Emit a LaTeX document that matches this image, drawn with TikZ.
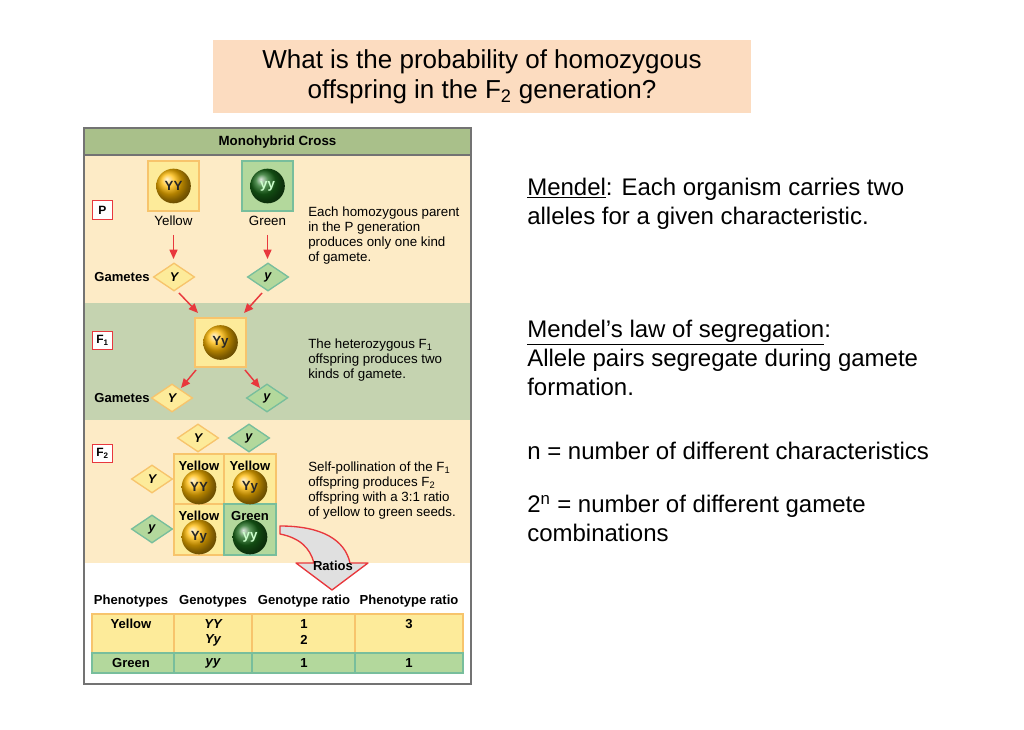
\documentclass[tikz,border=0pt]{standalone}
\usepackage{fontspec}
\setmainfont{Liberation Sans}
\usetikzlibrary{shapes.geometric,arrows.meta}
\definecolor{peach}{HTML}{FCDCC0}
\definecolor{lpeach}{HTML}{FDEBC6}
\definecolor{fgreen}{HTML}{C5D3B0}
\definecolor{hgreen}{HTML}{A9C08A}
\definecolor{yfill}{HTML}{FDEB9A}
\definecolor{yline}{HTML}{F7C46C}
\definecolor{gfill}{HTML}{B3D89C}
\definecolor{gline}{HTML}{78BE9C}
\definecolor{rline}{HTML}{E8383D}
\tikzset{
 ybox/.style={draw=yline,fill=yfill,line width=1pt},
 gbox/.style={draw=gline,fill=gfill,line width=1pt},
 yball/.style={circle,minimum size=26,inner sep=0,ball color=yellow!45!orange,font=\fontsize{10}{11}\bfseries\selectfont,text=black!85},
 gball/.style={circle,minimum size=26,inner sep=0,ball color=green!35!black!90,font=\fontsize{10}{11}\bfseries\selectfont,text=white!80!green},
 ydia/.style={diamond,aspect=1.5,draw=yline,fill=yfill,line width=1pt,minimum width=31,minimum height=21,inner sep=0,font=\fontsize{9.5}{10}\bfseries\itshape\selectfont},
 gdia/.style={ydia,draw=gline,fill=gfill},
 lab/.style={draw=rline,fill=white,line width=0.8pt,minimum width=15,minimum height=14,inner sep=1pt,font=\fontsize{9}{10}\bfseries\selectfont},
 small/.style={font=\fontsize{10}{11.2}\selectfont,align=left,anchor=north west,inner sep=0},
 bsmall/.style={font=\fontsize{9.8}{11.5}\bfseries\selectfont,inner sep=0},
 bital/.style={bsmall,font=\fontsize{9.8}{11.5}\bfseries\itshape\selectfont},
 rarr/.style={-{Triangle[length=7pt,width=6pt]},draw=rline,line width=1.1pt},
 big/.style={font=\fontsize{18}{21.8}\selectfont,align=left,anchor=west,inner sep=0},
}
\begin{document}
\begin{tikzpicture}[x=0.75pt,y=-0.75pt]
\useasboundingbox (0,0) rectangle (1024,730);
\fill[white] (0,0) rectangle (1024,730);
% title
\node[fill=peach,minimum width=538*0.75pt,minimum height=73*0.75pt,inner sep=0,align=center,font=\fontsize{19.5}{22.5}\selectfont] (title) at (482,76.5) {What is the probability of homozygous\\offspring in the F\textsubscript{2} generation?};
% figure backgrounds
\fill[hgreen] (84,128) rectangle (471,155);
\fill[lpeach] (84,155) rectangle (471,303);
\fill[fgreen] (84,303) rectangle (471,420);
\fill[lpeach] (84,420) rectangle (471,563);
\draw[black!55,line width=1.5pt] (84,128) rectangle (471,684);
\draw[black!55,line width=1.2pt] (84,155) -- (471,155);
\node[font=\fontsize{10}{11}\bfseries\selectfont] (hdr) at (277.5,142) {Monohybrid Cross};
% P
\node[lab] (P) at (102.5,210) {P};
\draw[ybox] (148,161) rectangle (199,211);
\node[yball] (YY) at (173.5,186) {YY};
\draw[gbox] (242,161) rectangle (293,211);
\node[gball] (yyP) at (267.5,186) {yy};
\node[font=\fontsize{10}{11}\selectfont] (tYel) at (173.5,221) {Yellow};
\node[font=\fontsize{10}{11}\selectfont] (tGrn) at (267.5,221) {Green};
\coordinate (a1s) at (173.5,235); \coordinate (a1e) at (173.5,259);
\coordinate (a2s) at (267.5,235); \coordinate (a2e) at (267.5,259);
\draw[rarr] (a1s) -- (a1e);
\draw[rarr] (a2s) -- (a2e);
\node[bsmall] (gam1) at (122,277) {Gametes};
\node[ydia] (gY1) at (174,277) {Y};
\node[gdia] (gy1) at (268,277) {y};
\node[small] (tP) at (308,207) {Each homozygous parent\\in the P generation\\produces only one kind\\of gamete.};
% F1
\node[lab] (F1) at (102.5,340.5) {F\textsubscript{1}};
\draw[ybox] (195,318) rectangle (246,367);
\node[yball] (Yy) at (220.5,342.5) {Yy};
\coordinate (f1a) at (198,313); \coordinate (f1b) at (244,313);
\draw[rarr] (179,293) -- (f1a);
\draw[rarr] (262,293) -- (f1b);
\node[bsmall] (gam2) at (122,398) {Gametes};
\node[ydia] (gY2) at (172,398) {Y};
\node[gdia] (gy2) at (267,398) {y};
\coordinate (f1c) at (196,370); \coordinate (f1d) at (245,370);
\coordinate (f1e) at (181,388); \coordinate (f1f) at (260,388);
\draw[rarr] (f1c) -- (f1e);
\draw[rarr] (f1d) -- (f1f);
\node[small] (tF1) at (308,339) {The heterozygous F\textsubscript{1}\\offspring produces two\\kinds of gamete.};
% F2
\node[lab] (F2) at (102.5,453.5) {F\textsubscript{2}};
\node[ydia] (tY) at (198,438) {Y};
\node[gdia] (ty) at (249,438) {y};
\node[ydia] (lY) at (152,479) {Y};
\node[gdia] (ly) at (152,529) {y};
\draw[ybox] (174,454) rectangle (224,504);
\draw[ybox] (224,454) rectangle (276,504);
\draw[ybox] (174,504) rectangle (224,555);
\draw[gbox] (224,504) rectangle (276,555);
\node[bsmall] (c1) at (199,466) {Yellow};
\node[bsmall] (c2) at (250,466) {Yellow};
\node[bsmall] (c3) at (199,516) {Yellow};
\node[bsmall] (c4) at (250,516) {Green};
\node[yball] (b1) at (199,487) {YY};
\node[yball] (b2) at (250,487) {Yy};
\node[yball] (b3) at (199,537) {Yy};
\node[gball] (b4) at (250,537) {yy};
\node[small] (tF2) at (308,462) {Self-pollination of the F\textsubscript{1}\\offspring produces F\textsubscript{2}\\offspring with a 3:1 ratio\\of yellow to green seeds.};
% ratios arrow
\draw[draw=rline,fill=black!12,line width=1pt,line join=round]
 (280,526) .. controls (322,526) and (345,540) .. (350,563)
 -- (368,563) -- (332,590) -- (296,563) -- (314,563)
 .. controls (310,548) and (300,538) .. (280,534) -- cycle;
\node[bsmall] (rat) at (333,566) {Ratios};
% table
\node[bsmall] (h1) at (131,601) {Phenotypes};
\node[bsmall] (h2) at (213,601) {Genotypes};
\node[bsmall] (h3) at (304,601) {Genotype ratio};
\node[bsmall] (h4) at (409,601) {Phenotype ratio};
\draw[ybox] (92,614) rectangle (174,653);
\draw[ybox] (174,614) rectangle (252,653);
\draw[ybox] (252,614) rectangle (355,653);
\draw[ybox] (355,614) rectangle (463,653);
\draw[gbox] (92,653) rectangle (174,673);
\draw[gbox] (174,653) rectangle (252,673);
\draw[gbox] (252,653) rectangle (355,673);
\draw[gbox] (355,653) rectangle (463,673);
\node[bsmall] (r1) at (131,624) {Yellow};
\node[bital] (r2) at (213,624) {YY};
\node[bital] (r3) at (213,640) {Yy};
\node[bsmall] (r4) at (304,624) {1};
\node[bsmall] (r5) at (304,640) {2};
\node[bsmall] (r6) at (409,624) {3};
\node[bsmall] (g1) at (131,663) {Green};
\node[bital] (g2) at (213,663) {yy};
\node[bsmall] (g3) at (304,663) {1};
\node[bsmall] (g4) at (409,663) {1};
% right text
\node[big,anchor=north west] (m1) at (527,178) {\underline{Mendel}: Each organism carries two\\alleles for a given characteristic.};
\node[big,anchor=north west] (m2) at (527,320) {\underline{Mendel’s law of segregation}:\\Allele pairs segregate during gamete\\formation.};
\node[big] (m3) at (527,451) {n = number of different characteristics};
\node[big,anchor=north west] (m4) at (527,495) {2\textsuperscript{n} = number of different gamete\\combinations};
\end{tikzpicture}
\end{document}
